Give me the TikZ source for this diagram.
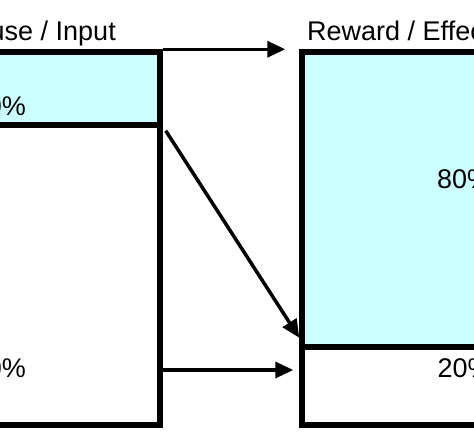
\documentclass[tikz,border=0pt]{standalone}
\usepackage{fontspec}
\setmainfont{Liberation Sans}
\usepackage{tikz}
\usetikzlibrary{positioning,arrows.meta,calc}
\usepackage{xcolor}
\definecolor{paleteal}{RGB}{204,255,255}

\begin{document}
\begin{tikzpicture}[x=1pt,y=-1pt,
  cell/.style={rectangle,draw=black,line width=5.5pt,inner sep=0pt},
  flow/.style={line width=3.5pt,-{Triangle[length=18pt,width=16pt]}},
  lbl/.style={inner sep=0pt,font=\fontsize{27}{32}\selectfont}]
\path[use as bounding box,clip] (0,0) rectangle (474,437);

% cause side
\node[cell,fill=paleteal,minimum width=320pt,minimum height=73pt] (causeTop) at (0,88.5) {};
\node[cell,minimum width=320pt,minimum height=300pt] (causeBot) at (0,275) {};
% effect side
\node[cell,fill=paleteal,minimum width=322pt,minimum height=295pt] (effTop) at (463,199.5) {};
\node[cell,minimum width=322pt,minimum height=78pt] (effBot) at (463,386) {};

\node[lbl,anchor=base east] (causeHead) at (116,40.5) {Cause / Input};
\node[lbl,anchor=base west] (effHead) at (307,40.5) {Reward / Effect};
\node[lbl,anchor=base east] (causeFew) at (26,115) {20\%};
\node[lbl,anchor=base east] (causeMany) at (26,377) {80\%};
\node[lbl,anchor=base west] (effMany) at (437,188) {80\%};
\node[lbl,anchor=base west] (effFew) at (437.5,377) {20\%};

\draw[flow] (causeTop.north east) -- ([xshift=-14pt]effTop.north west);
\draw[flow] ([shift={(3pt,-3pt)}]causeTop.south east) -- ([yshift=12pt]effTop.south west);
\draw[flow] ([yshift=-95pt]causeBot.east) -- ([shift={(-6pt,16pt)}]effBot.west);
\end{tikzpicture}
\end{document}
